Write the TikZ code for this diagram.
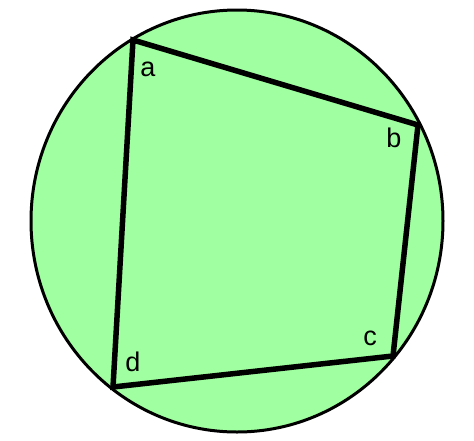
\documentclass[tikz,border=0pt]{standalone}
\usepackage{fontspec}
\setmainfont{Liberation Sans}
\definecolor{discgreen}{RGB}{160,255,160}
\begin{document}
\begin{tikzpicture}[x=1pt,y=-1pt,
	lbl/.style={font=\fontsize{27}{30}\selectfont,inner sep=0pt}]
	\useasboundingbox (0,0) rectangle (474,440);
	\def\rx{206};
	\def\ry{211};
	\draw[fill=discgreen,line width=3pt] (237,221) ellipse ({\rx} and {\ry});
	\coordinate (a) at (133,40);
	\coordinate (b) at (418,125);
	\coordinate (c) at (393,356);
	\coordinate (d) at (113,387);
	\draw[line width=5.5pt,line join=miter] (a) -- (b) -- (c) -- (d) -- cycle;
	\node[lbl] (la) at (148,69) {a};
	\node[lbl] (lb) at (394,138) {b};
	\node[lbl] (lc) at (370,338) {c};
	\node[lbl] (ld) at (133,362) {d};
\end{tikzpicture}
\end{document}
